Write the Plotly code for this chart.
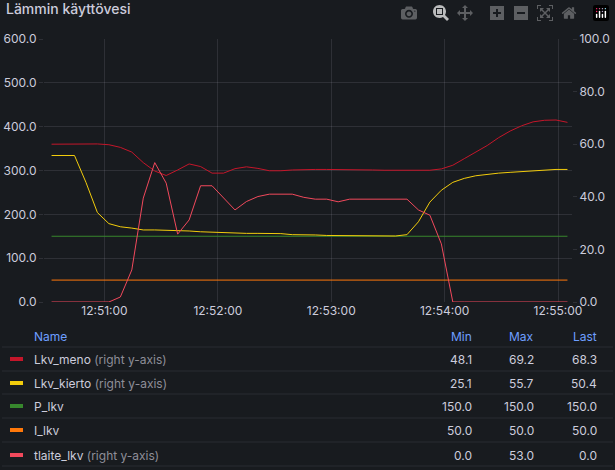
import plotly.graph_objects as go
import pandas as pd

start, end = "2024-01-01 12:50:32", "2024-01-01 12:55:05"
times = pd.date_range(start, end, periods=46)

lkv_meno = [60.0,60.0,60.2,60.2,60.1,59.8,58.8,57.0,53.0,49.8,48.1,50.2,52.5,51.5,49.0,49.0,50.7,51.4,50.8,49.9,
            49.9,50.2,50.4,50.4,50.4,50.4,50.4,50.4,50.2,50.1,50.1,50.1,50.1,50.1,50.6,52.0,54.5,57.0,59.5,62.5,
            65.0,67.0,68.5,69.1,69.2,68.3]
lkv_kierto = [55.7,55.7,55.7,45.5,34.0,29.8,28.6,28.1,27.4,27.4,27.3,27.3,27.0,26.7,26.5,26.5,26.1,26.1,26.1,26.1,
              26.0,25.6,25.6,25.5,25.3,25.3,25.3,25.1,25.1,25.1,25.1,25.6,30.5,38.0,42.5,45.5,47.0,48.0,48.6,49.0,
              49.3,49.6,49.9,50.2,50.4,50.4]
p_lkv = [150.0]*46
i_lkv = [50.0]*46
tlaite_lkv = [0,0,0,0,0,0,1.9,12.2,39.5,53.0,45.2,25.8,31.2,44.2,44.2,39.5,35.0,38.2,40.1,41.0,
              41.0,41.0,39.8,39.1,39.1,38.1,39.1,39.1,39.1,39.1,39.1,39.1,35.0,33.0,22.1,0,0,0,0,0,
              0,0,0,0,0,0]

names = ["Lkv_meno", "Lkv_kierto", "P_lkv", "I_lkv", "tlaite_lkv"]
colors = ["#C4162A", "#F2CC0C", "#37872D", "#FF780A", "#F2495C"]
right = [True, True, False, False, True]
series = [lkv_meno, lkv_kierto, p_lkv, i_lkv, tlaite_lkv]
mins = ["48.1", "25.1", "150.0", "50.0", "0.0"]
maxs = ["69.2", "55.7", "150.0", "50.0", "53.0"]
lasts = ["68.3", "50.4", "150.0", "50.0", "0.0"]

BG = "#181B1F"; TXT = "#CCCCDC"; GRID = "rgba(204,204,220,0.12)"
FONT = "Inter, Roboto, sans-serif"

fig = go.Figure()
for n, c, r, s in zip(names, colors, right, series):
    fig.add_trace(go.Scatter(x=times, y=s, name=n, mode="lines", line=dict(color=c, width=1),
                             yaxis="y2" if r else "y", showlegend=False))

L, R, T, B = 44, 572, 39, 302
W, H = R - L, B - T
px = lambda x: (x - L) / W
py = lambda y: (B - y) / H

fig.update_layout(
    width=615, height=470, paper_bgcolor=BG, plot_bgcolor=BG,
    margin=dict(l=L, r=615 - R, t=T, b=470 - B, autoexpand=False),
    font=dict(family=FONT, color=TXT, size=12),
    xaxis=dict(range=["2024-01-01 12:50:28", "2024-01-01 12:55:07.4"], tickformat="%H:%M:%S",
               dtick=60000, tick0="2024-01-01 12:51:00", showgrid=True, gridcolor=GRID,
               zeroline=False, showline=False, ticks="", tickfont=dict(size=12), automargin=False),
    yaxis=dict(range=[0, 600], dtick=100, tickformat=".1f", showgrid=True, gridcolor=GRID,
               zeroline=False, ticks="outside", ticklen=4, tickcolor=GRID, automargin=False),
    yaxis2=dict(range=[0, 100], dtick=20, tickformat=".1f", overlaying="y", side="right",
                showgrid=False, zeroline=False, ticks="outside", ticklen=4, tickcolor=GRID,
                automargin=False),
)

ann = []
shapes = []
ann.append(dict(xref="paper", yref="paper", x=px(4), y=py(9), text="Lämmin käyttövesi", showarrow=False,
                xanchor="left", yanchor="middle", font=dict(size=14, color=TXT, weight=500)))
HDR = "#6E9FFF"
hy = 336
ann.append(dict(xref="paper", yref="paper", x=px(32), y=py(hy), text="Name", showarrow=False,
                xanchor="left", yanchor="middle", font=dict(size=12, color=HDR)))
for lab, xr in [("Min", 474), ("Max", 536), ("Last", 599)]:
    ann.append(dict(xref="paper", yref="paper", x=px(xr), y=py(hy), text=lab, showarrow=False,
                    xanchor="right", yanchor="middle", font=dict(size=12, color=HDR)))
seps = [347, 371, 394, 418, 442, 466]
for sy in seps:
    shapes.append(dict(type="line", xref="paper", yref="paper", x0=px(2), x1=px(613), y0=py(sy), y1=py(sy),
                       line=dict(color="rgba(204,204,220,0.1)", width=1)))
rows = [359, 383, 406, 430, 455]
for i, ry in enumerate(rows):
    shapes.append(dict(type="rect", xref="paper", yref="paper", x0=px(10), x1=px(23), y0=py(ry - 2), y1=py(ry + 2),
                       fillcolor=colors[i], line=dict(width=0)))
    txt = names[i] + (' <span style="color:#8E8E98">(right y-axis)</span>' if right[i] else "")
    ann.append(dict(xref="paper", yref="paper", x=px(32), y=py(ry), text=txt, showarrow=False,
                    xanchor="left", yanchor="middle", font=dict(size=12, color=TXT)))
    for val, xr in [(mins[i], 474), (maxs[i], 536), (lasts[i], 599)]:
        ann.append(dict(xref="paper", yref="paper", x=px(xr), y=py(ry), text=val, showarrow=False,
                        xanchor="right", yanchor="middle", font=dict(size=12, color=TXT)))
fig.update_layout(annotations=ann, shapes=shapes)
fig.write_html("out.html", post_script="document.body.style.margin='0';document.body.style.background='#181B1F';document.body.style.overflow='hidden';")
